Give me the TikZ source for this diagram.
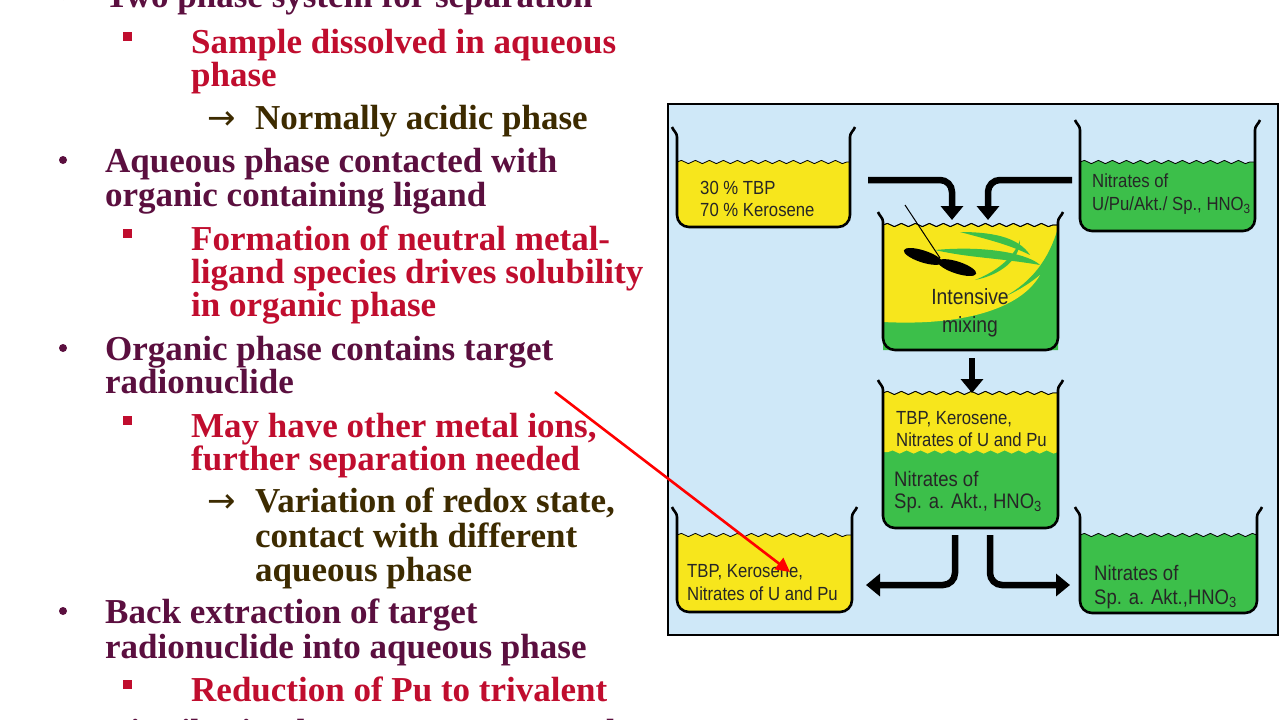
\documentclass[tikz,border=0pt]{standalone}
\usepackage{fontspec}
\setmainfont{Liberation Serif}
\newfontfamily\dsans[FakeStretch=0.88]{Liberation Sans}
\newfontfamily\dvs{DejaVu Sans}
\usetikzlibrary{arrows.meta,decorations.pathmorphing}
\definecolor{lvA}{HTML}{5B0F3F}
\definecolor{lvB}{HTML}{C00D2E}
\definecolor{lvC}{HTML}{3D2B00}
\definecolor{sky}{HTML}{CFE8F8}
\definecolor{yel}{HTML}{F7E61C}
\definecolor{grn}{HTML}{3CBF4A}
\newcommand\bkr[4]{\draw[line width=2.6pt,black] ({#1-5},#3) to[out=-70,in=90] (#1,{#3+10}) -- (#1,{#4-12}) to[out=-90,in=180] ({#1+12},#4) -- ({#2-12},#4) to[out=0,in=-90] (#2,{#4-12}) -- (#2,{#3+10}) to[out=90,in=-110] ({#2+5},#3);}
\newcommand\liq[5]{\fill[#5,decoration={snake,amplitude=1.6pt,segment length=14pt}] (#1,#3) decorate{-- (#2,#3)} -- (#2,{#4-12}) to[out=-90,in=0] ({#2-12},#4) -- ({#1+12},#4) to[out=180,in=-90] (#1,{#4-12}) -- cycle;
\draw[line width=0.8pt,decoration={snake,amplitude=1.6pt,segment length=14pt},decorate] (#1,#3) -- (#2,#3);}
\tikzset{
 l1/.style={anchor=base west,text=lvA,font=\fontsize{35}{38}\selectfont\bfseries,inner sep=0},
 l2/.style={anchor=base west,text=lvB,font=\fontsize{35}{38}\selectfont\bfseries,inner sep=0},
 l3/.style={anchor=base west,text=lvC,font=\fontsize{35}{38}\selectfont\bfseries,inner sep=0},
 ar/.style={anchor=base west,text=lvC,font=\dvs\fontsize{34}{38}\selectfont,inner sep=0},
 dt/.style={anchor=base west,font=\dsans\fontsize{19}{21}\selectfont,inner sep=0,text=black!85},
 flow/.style={line width=6.5pt,-{Triangle[length=14pt,width=22pt]},rounded corners=12pt},
}
\begin{document}
\begin{tikzpicture}[x=1pt,y=-1pt]
\useasboundingbox (0,0) rectangle (1280,720);
\fill[white] (0,0) rectangle (1280,720);
\begin{scope}
\clip (0,0) rectangle (1280,720);
\foreach \y in {8,172,360,623,746} \fill[lvA] (63,{\y-12}) circle (4);
\foreach \y in {53,250,437,701} \fill[lvB] (123,{\y-21}) rectangle (132,{\y-12});
\node[l1] (t1) at (105,8) {Two phase system for separation};
\node[l2] (t2) at (191,53) {Sample dissolved in aqueous};
\node[l2] (t3) at (191,86) {phase};
\node[ar] (a1) at (207,129) {→};
\node[l3] (t4) at (255,129) {Normally acidic phase};
\node[l1] (t5) at (105,172) {Aqueous phase contacted with};
\node[l1] (t6) at (105,206) {organic containing ligand};
\node[l2] (t7) at (191,250) {Formation of neutral metal-};
\node[l2] (t8) at (191,283) {ligand species drives solubility};
\node[l2] (t9) at (191,316) {in organic phase};
\node[l1] (t10) at (105,360) {Organic phase contains target};
\node[l1] (t11) at (105,393) {radionuclide};
\node[l2] (t12) at (191,437) {May have other metal ions,};
\node[l2] (t13) at (191,470) {further separation needed};
\node[ar] (a2) at (207,512) {→};
\node[l3] (t14) at (255,512) {Variation of redox state,};
\node[l3] (t15) at (255,547) {contact with different};
\node[l3] (t16) at (255,581) {aqueous phase};
\node[l1] (t17) at (105,623) {Back extraction of target};
\node[l1] (t18) at (105,658) {radionuclide into aqueous phase};
\node[l2] (t19) at (191,701) {Reduction of Pu to trivalent};
\node[l1] (t20) at (105,743) {Distribution between aqueous and};
\end{scope}
\fill[sky] (668,104) rectangle (1278,635);
\draw[line width=1.3pt] (668,104) rectangle (1278,635);
\liq{677}{850}{162}{227}{yel}
\bkr{677}{850}{127}{227}
\node[dt] (b1a) at (700,194) {30 \% TBP};
\node[dt] (b1b) at (700,216) {70 \% Kerosene};
\liq{1080}{1255}{162}{231}{grn}
\bkr{1080}{1255}{120}{231}
\node[dt] (b2a) at (1092,187) {Nitrates of};
\node[dt] (b2b) at (1092,210) {U/Pu/Akt./ Sp., HNO\textsubscript{3}};
\liq{883}{1058}{225}{350}{yel}
\begin{scope}
\clip (883,228) -- (1058,228) -- (1058,350) -- (883,350) -- cycle;
\fill[grn] (1058,228) .. controls (1040,290) and (990,320) .. (883,318) -- (883,350) -- (1058,350) -- cycle;
\fill[grn] (960,232) .. controls (1000,232) and (1020,240) .. (1030,255) .. controls (1010,245) and (990,240) .. (960,232) -- cycle;
\fill[grn] (935,250) .. controls (990,245) and (1030,255) .. (1040,265) .. controls (1000,258) and (970,258) .. (935,250) -- cycle;
\fill[grn] (975,280) .. controls (1000,270) and (1015,255) .. (1020,240) .. controls (1020,260) and (1000,275) .. (975,280) -- cycle;
\fill[yel] (883,310) .. controls (960,320) and (1010,300) .. (1040,275) .. controls (1020,310) and (960,326) .. (883,322) -- cycle;
\end{scope}
\draw[line width=0.8pt,decoration={snake,amplitude=1.6pt,segment length=14pt},decorate] (883,225) -- (1058,225);
\bkr{883}{1058}{212}{350}
\draw[line width=1pt] (905,205) -- (940,258);
\fill[black,rotate around={-18:(940,262)}] (922,262) ellipse (20 and 6);
\fill[black,rotate around={-18:(940,262)}] (958,262) ellipse (20 and 6);
\node[dt,anchor=base] (mx1) at (970,304) {\fontsize{22}{24}\selectfont Intensive};
\node[dt,anchor=base] (mx2) at (970,332) {\fontsize{22}{24}\selectfont mixing};
\liq{883}{1058}{393}{528}{grn}
\fill[yel,decoration={snake,amplitude=1.6pt,segment length=14pt}] (883,393) decorate{-- (1058,393)} -- (1058,452) decorate{-- (883,452)} -- cycle;
\draw[line width=0.8pt,decoration={snake,amplitude=1.6pt,segment length=14pt},decorate] (883,393) -- (1058,393);
\bkr{883}{1058}{380}{528}
\node[dt] (s1) at (896,424) {TBP, Kerosene,};
\node[dt] (s2) at (896,446) {Nitrates of U and Pu};
\node[dt,font=\dsans\fontsize{21}{23}\selectfont] (s3) at (894,486) {Nitrates of};
\node[dt,font=\dsans\fontsize{21}{23}\selectfont] (s4) at (894,508) {Sp. a. Akt., HNO\textsubscript{3}};
\liq{677}{852}{535}{612}{yel}
\bkr{677}{852}{507}{612}
\node[dt] (b3a) at (687,577) {TBP, Kerosene,};
\node[dt] (b3b) at (687,600) {Nitrates of U and Pu};
\liq{1080}{1257}{535}{613}{grn}
\bkr{1080}{1257}{507}{613}
\node[dt,font=\dsans\fontsize{21}{23}\selectfont] (b4a) at (1094,580) {Nitrates of};
\node[dt,font=\dsans\fontsize{21}{23}\selectfont] (b4b) at (1094,604) {Sp. a. Akt.,HNO\textsubscript{3}};
\coordinate (f1) at (868,180); \coordinate (f1e) at (952,220);
\coordinate (f2) at (1072,180); \coordinate (f2e) at (988,220);
\coordinate (f3) at (972,358); \coordinate (f3e) at (972,393);
\coordinate (f4) at (955,535); \coordinate (f4e) at (866,585);
\coordinate (f5) at (990,535); \coordinate (f5e) at (1070,585);
\draw[flow] (f1) -- (952,180) -- (f1e);
\draw[flow] (f2) -- (988,180) -- (f2e);
\draw[flow] (f3) -- (f3e);
\draw[flow] (f4) -- (955,585) -- (f4e);
\draw[flow] (f5) -- (990,585) -- (f5e);
\coordinate (r1) at (555,392); \coordinate (r2) at (790,572);
\draw[red,line width=2.6pt,-{Triangle[length=14pt,width=14pt]}] (r1) -- (r2);
\end{tikzpicture}
\end{document}
